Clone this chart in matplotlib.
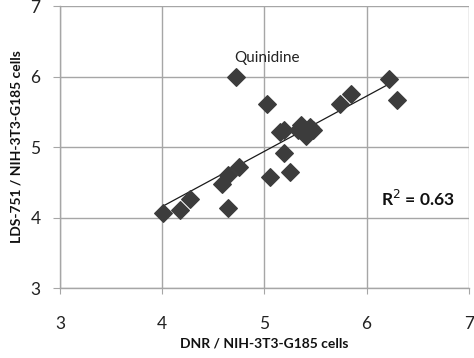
import numpy as np
import matplotlib
matplotlib.use("Agg")
import matplotlib.pyplot as plt

dnr = [4.01, 4.17, 4.27, 4.64, 4.59, 4.64, 4.75, 4.72, 5.03, 5.05, 5.15, 5.19, 5.19, 5.25,
       5.36, 5.45, 5.41, 5.48, 5.33, 5.74, 5.85, 6.22, 6.30]
lds = [4.06, 4.11, 4.26, 4.14, 4.48, 4.60, 4.71, 6.00, 5.61, 4.58, 5.22, 5.24, 4.92, 4.64,
       5.31, 5.29, 5.15, 5.24, 5.24, 5.61, 5.75, 5.96, 5.67]
ticks = [3, 4, 5, 6, 7]

plt.rcParams['font.family'] = ['Lato', 'DejaVu Sans']
fig = plt.figure(figsize=(4.74, 3.58), dpi=100)
ax = fig.add_axes([0.1266, 0.1955, 0.8624, 0.7875])

grid_c = '#a6a6a6'
ax.set_xlim(3, 7)
ax.set_ylim(3, 7)
ax.set_xticks(ticks)
ax.set_yticks(ticks)
ax.grid(True, color=grid_c, linewidth=1.0)
ax.set_axisbelow(True)
for s in ['top', 'right']:
    ax.spines[s].set_visible(False)
for s in ['left', 'bottom']:
    ax.spines[s].set_color(grid_c)
    ax.spines[s].set_linewidth(1.0)
ax.tick_params(axis='x', length=4, color=grid_c, pad=16, labelsize=12.5, labelcolor='#222222')
ax.tick_params(axis='y', length=5, color=grid_c, pad=9, labelsize=12.5, labelcolor='#222222')

x = np.array(dnr); y = np.array(lds)
m, b = np.polyfit(x, y, 1)
xs = np.array([x.min(), x.max()])
ax.plot(xs, m * xs + b, color='#1a1a1a', linewidth=0.9, zorder=2)
ax.scatter(x, y, marker='D', s=80, color='#3c3c3c', zorder=3, clip_on=False)

ax.text(5.03, 6.26, 'Quinidine', ha='center', va='center', fontsize=11, color='#222222')
ax.text(6.14, 4.27, 'R$^2$ = 0.63', ha='left', va='center', fontsize=12.5, fontweight='bold', color='#111111')

ax.set_xlabel('DNR / NIH-3T3-G185 cells', fontsize=10, fontweight='bold', labelpad=4, color='#111111')
ax.set_ylabel('LDS-751 / NIH-3T3-G185 cells', fontsize=10, fontweight='bold', labelpad=6, color='#111111')

fig.savefig('out.png', dpi=100)
